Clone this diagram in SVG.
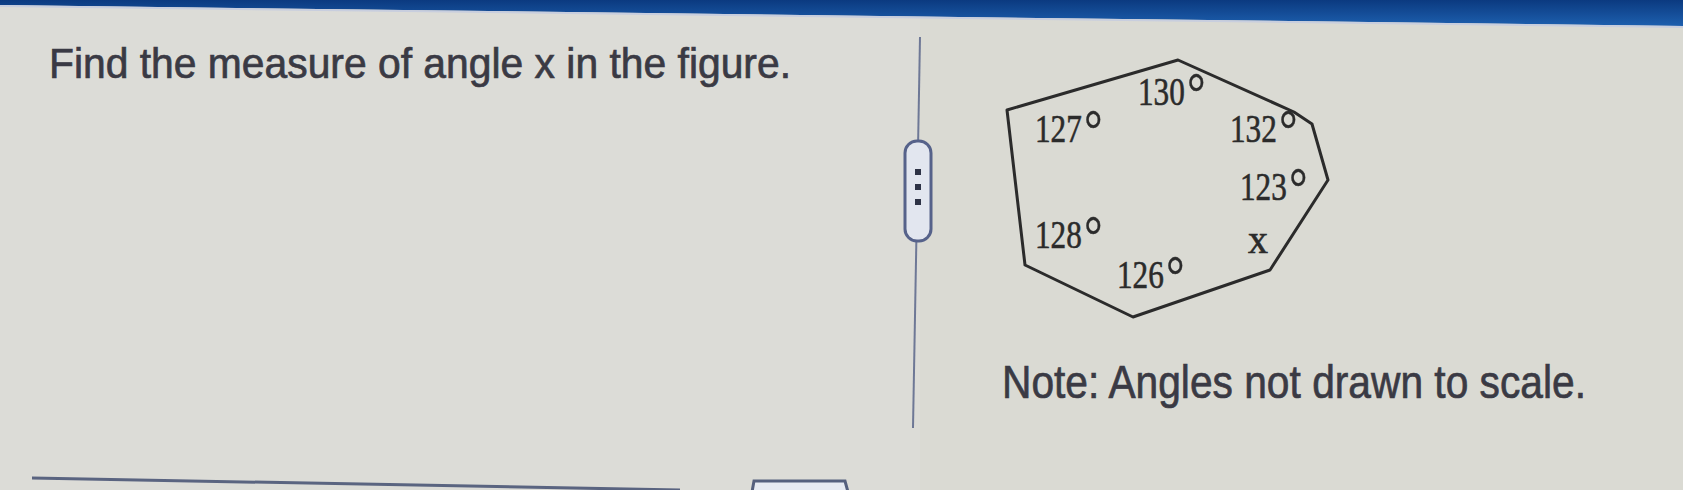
<svg xmlns="http://www.w3.org/2000/svg" width="1683" height="490" viewBox="0 0 1683 490">
<defs>
<style>
.lbl{font-family:"Liberation Serif","Times New Roman",serif;font-size:40px;fill:#2b2b2b;stroke:#2b2b2b;stroke-width:0.6}
.deg{font-size:58px;stroke-width:0.5}
.ui{font-family:"Liberation Sans",Arial,sans-serif;fill:#3a3a44;stroke:#3a3a44;stroke-width:0.7}
</style>
<linearGradient id="bar" x1="0" y1="0" x2="0" y2="1">
<stop offset="0" stop-color="#0b3a80"/>
<stop offset="1" stop-color="#1d5fae"/>
</linearGradient>
</defs>
<rect x="0" y="0" width="1683" height="490" fill="#dadad3"/>
<rect x="0" y="0" width="920" height="490" fill="#dcdcd7"/>
<polygon points="0,0 1683,0 1683,26 0,5" fill="url(#bar)"/>
<polyline points="0,6 1683,27" fill="none" stroke="#c8cede" stroke-width="2"/>
<text class="ui" x="49" y="78" font-size="42" textLength="742" lengthAdjust="spacingAndGlyphs">Find the measure of angle x in the figure.</text>
<line x1="920" y1="37" x2="913" y2="428" stroke="#6e7896" stroke-width="2"/>
<g id="scroll-handle">
<rect x="905" y="141" width="26" height="100" rx="12" fill="#e2e6ef" stroke="#56628a" stroke-width="3"/>
<rect x="915" y="169" width="6" height="6" fill="#2e3346"/>
<rect x="915" y="184" width="6" height="6" fill="#2e3346"/>
<rect x="915" y="199" width="6" height="6" fill="#2e3346"/>
</g>
<g id="polygon">
<polygon points="1007,110 1178,60 1294,112 1312,124 1328,180 1270,270 1133,317 1025,265" fill="none" stroke="#2b2b2b" stroke-width="3" stroke-linejoin="round"/>
</g>
<g id="labels">
<text class="lbl" transform="translate(1138,105) scale(0.78,1)">130<tspan class="deg" dx="3" dy="7">°</tspan></text>
<text class="lbl" transform="translate(1035,142) scale(0.78,1)">127<tspan class="deg" dx="3" dy="7">°</tspan></text>
<text class="lbl" transform="translate(1230,142) scale(0.78,1)">132<tspan class="deg" dx="3" dy="7">°</tspan></text>
<text class="lbl" transform="translate(1240,200) scale(0.78,1)">123<tspan class="deg" dx="3" dy="7">°</tspan></text>
<text class="lbl" transform="translate(1035,248) scale(0.78,1)">128<tspan class="deg" dx="3" dy="7">°</tspan></text>
<text class="lbl" x="1248" y="253" font-size="38">x</text>
<text class="lbl" transform="translate(1117,288) scale(0.78,1)">126<tspan class="deg" dx="3" dy="7">°</tspan></text>
</g>
<text class="ui" x="1002" y="398" font-size="47" textLength="584" lengthAdjust="spacingAndGlyphs">Note: Angles not drawn to scale.</text>
<line x1="32" y1="478" x2="680" y2="490" stroke="#5a6480" stroke-width="3"/>
<path d="M752,492 L754,481 L845,481 L848,492" fill="#e6eaf2" stroke="#55607e" stroke-width="3"/>
</svg>
